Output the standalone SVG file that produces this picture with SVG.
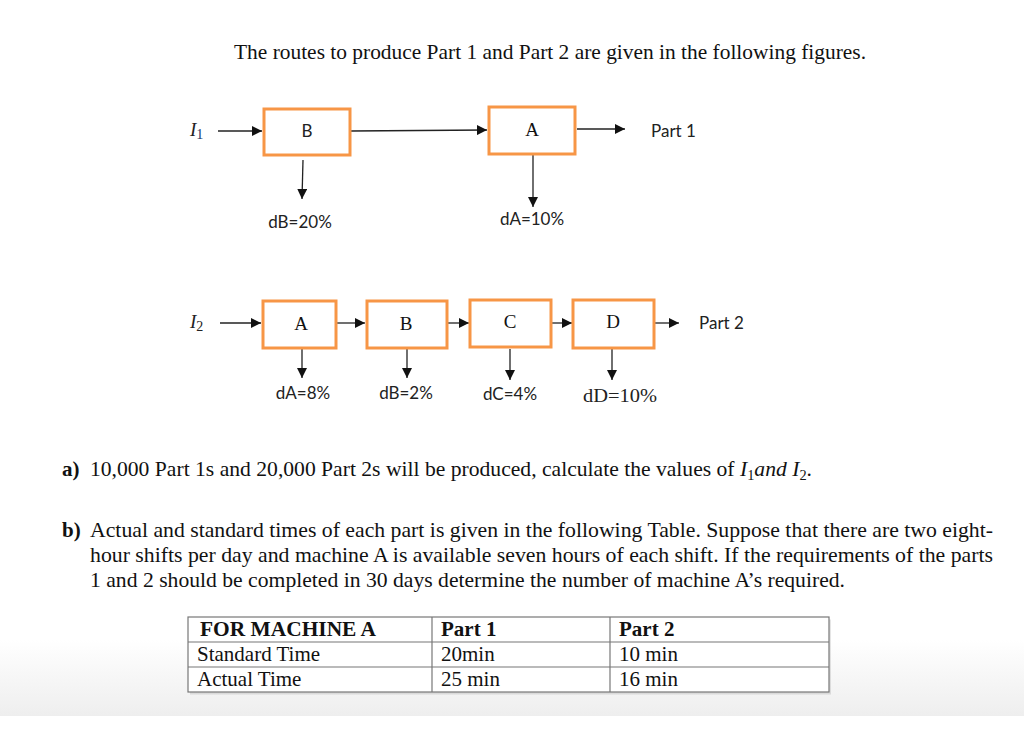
<svg xmlns="http://www.w3.org/2000/svg" width="1024" height="731" viewBox="0 0 1024 731">
<defs>
<linearGradient id="bg" x1="0" y1="0" x2="0" y2="1">
<stop offset="0" stop-color="#ffffff"/>
<stop offset="1" stop-color="#eeeeee"/>
</linearGradient>
<marker id="ah" viewBox="0 0 10 10" refX="10" refY="5" markerWidth="10" markerHeight="10" markerUnits="userSpaceOnUse" orient="auto">
<path d="M0,0 L10,5 L0,10 z" fill="#111"/>
</marker>
</defs>
<style>
.box{fill:#fff;stroke:#F79646;stroke-width:3}
.ln{stroke:#222;stroke-width:1.3;fill:none;marker-end:url(#ah)}
.sans{font-family:Lato,"Liberation Sans",sans-serif;font-size:17px;fill:#222}
.ser{font-family:"Liberation Serif",serif;font-size:19px;fill:#111}
.txt{font-family:"Liberation Serif",serif;font-size:21px;fill:#111}
.tl{stroke:#777;stroke-width:1.2;fill:none}
</style>
<rect x="0" y="0" width="1024" height="731" fill="#fff"/>
<rect x="0" y="640" width="1024" height="76" fill="url(#bg)"/>

<text class="txt" x="234" y="59" font-size="20" textLength="632" lengthAdjust="spacingAndGlyphs">The routes to produce Part 1 and Part 2 are given in the following figures.</text>

<g id="connectors">
<line class="ln" x1="218" y1="131" x2="262" y2="131"/>
<line class="ln" x1="351" y1="131" x2="487" y2="130"/>
<line class="ln" x1="577" y1="129" x2="625" y2="129"/>
<line class="ln" x1="303" y1="160" x2="302" y2="199"/>
<line class="ln" x1="533" y1="155" x2="533" y2="207"/>
<line class="ln" x1="220" y1="323" x2="261" y2="323"/>
<line class="ln" x1="337" y1="323" x2="365" y2="323"/>
<line class="ln" x1="448" y1="323" x2="469" y2="323"/>
<line class="ln" x1="552" y1="323" x2="572" y2="323"/>
<line class="ln" x1="655" y1="323" x2="679" y2="323"/>
<line class="ln" x1="302" y1="349" x2="302" y2="378"/>
<line class="ln" x1="407" y1="349" x2="407" y2="378"/>
<line class="ln" x1="510" y1="349" x2="510" y2="380"/>
<line class="ln" x1="612" y1="349" x2="612" y2="380"/>
</g>

<g id="I1"><text x="190" y="136" font-family="Liberation Serif,serif" font-style="italic" font-size="19" fill="#222">I<tspan font-style="normal" font-size="14" dy="3" fill="#223366">1</tspan></text></g>
<g id="B1"><rect class="box" x="264" y="109" width="86" height="46"/><text class="sans" x="307" y="137" text-anchor="middle">B</text></g>
<g id="A1"><rect class="box" x="489" y="107" width="86" height="47"/><text class="ser" x="532" y="136" text-anchor="middle">A</text></g>
<g id="Part1"><text class="sans" x="651" y="137">Part 1</text></g>
<g id="dB1"><text class="sans" x="300" y="228" text-anchor="middle">dB=20%</text></g>
<g id="dA1"><text class="sans" x="532" y="225" text-anchor="middle">dA=10%</text></g>

<g id="I2"><text x="190" y="328" font-family="Liberation Serif,serif" font-style="italic" font-size="19" fill="#222">I<tspan font-style="normal" font-size="14" dy="3">2</tspan></text></g>
<g id="A2"><rect class="box" x="263" y="301" width="73" height="47"/><text class="ser" x="301" y="330" text-anchor="middle">A</text></g>
<g id="B2"><rect class="box" x="367" y="301" width="80" height="47"/><text class="ser" x="406" y="330" text-anchor="middle">B</text></g>
<g id="C2"><rect class="box" x="470" y="300" width="81" height="47"/><text class="ser" x="510" y="328" text-anchor="middle">C</text></g>
<g id="D2"><rect class="box" x="573" y="300" width="81" height="48"/><text class="ser" x="613" y="328" text-anchor="middle">D</text></g>
<g id="Part2"><text class="sans" x="699" y="329">Part 2</text></g>
<g id="dA2"><text class="sans" x="303" y="399" text-anchor="middle">dA=8%</text></g>
<g id="dB2"><text class="sans" x="406" y="399" text-anchor="middle">dB=2%</text></g>
<g id="dC2"><text class="sans" x="510" y="400" text-anchor="middle">dC=4%</text></g>
<g id="dD2"><text x="620" y="402" text-anchor="middle" font-family="Liberation Serif,serif" font-size="19" fill="#222" textLength="74" lengthAdjust="spacingAndGlyphs">dD=10%</text></g>

<text class="txt" x="62" y="476" font-weight="bold">a)</text>
<text class="txt" x="90" y="476" textLength="722" lengthAdjust="spacingAndGlyphs">10,000 Part 1s and 20,000 Part 2s will be produced, calculate the values of <tspan font-style="italic">I</tspan><tspan font-size="14" dy="4">1</tspan><tspan dy="-4" font-style="italic">and I</tspan><tspan font-size="14" dy="4">2</tspan><tspan dy="-4">.</tspan></text>

<text class="txt" x="62" y="537" font-weight="bold">b)</text>
<text class="txt" x="90" y="537" textLength="903" lengthAdjust="spacingAndGlyphs">Actual and standard times of each part is given in the following Table. Suppose that there are two eight-</text>
<text class="txt" x="90" y="562" textLength="903" lengthAdjust="spacingAndGlyphs">hour shifts per day and machine A is available seven hours of each shift. If the requirements of the parts</text>
<text class="txt" x="90" y="587" textLength="755" lengthAdjust="spacingAndGlyphs">1 and 2 should be completed in 30 days determine the number of machine A’s required.</text>

<g id="table">
<rect x="189" y="618" width="641" height="75" fill="#000" opacity="0.1" transform="translate(1,1.5)"/>
<rect x="188" y="617" width="641" height="75" fill="#fff"/>
<rect class="tl" x="188" y="617" width="641" height="75"/>
<line class="tl" x1="188" y1="642" x2="829" y2="642"/>
<line class="tl" x1="188" y1="667" x2="829" y2="667"/>
<line class="tl" x1="432" y1="617" x2="432" y2="692"/>
<line class="tl" x1="610" y1="617" x2="610" y2="692"/>
<text class="txt" x="200" y="636" font-weight="bold" textLength="176" lengthAdjust="spacingAndGlyphs">FOR MACHINE A</text>
<text class="txt" x="441" y="636" font-weight="bold">Part 1</text>
<text class="txt" x="619" y="636" font-weight="bold">Part 2</text>
<text class="txt" x="197" y="661">Standard Time</text>
<text class="txt" x="441" y="661">20min</text>
<text class="txt" x="619" y="661">10 min</text>
<text class="txt" x="197" y="686">Actual Time</text>
<text class="txt" x="441" y="686">25 min</text>
<text class="txt" x="619" y="686">16 min</text>
</g>
</svg>
